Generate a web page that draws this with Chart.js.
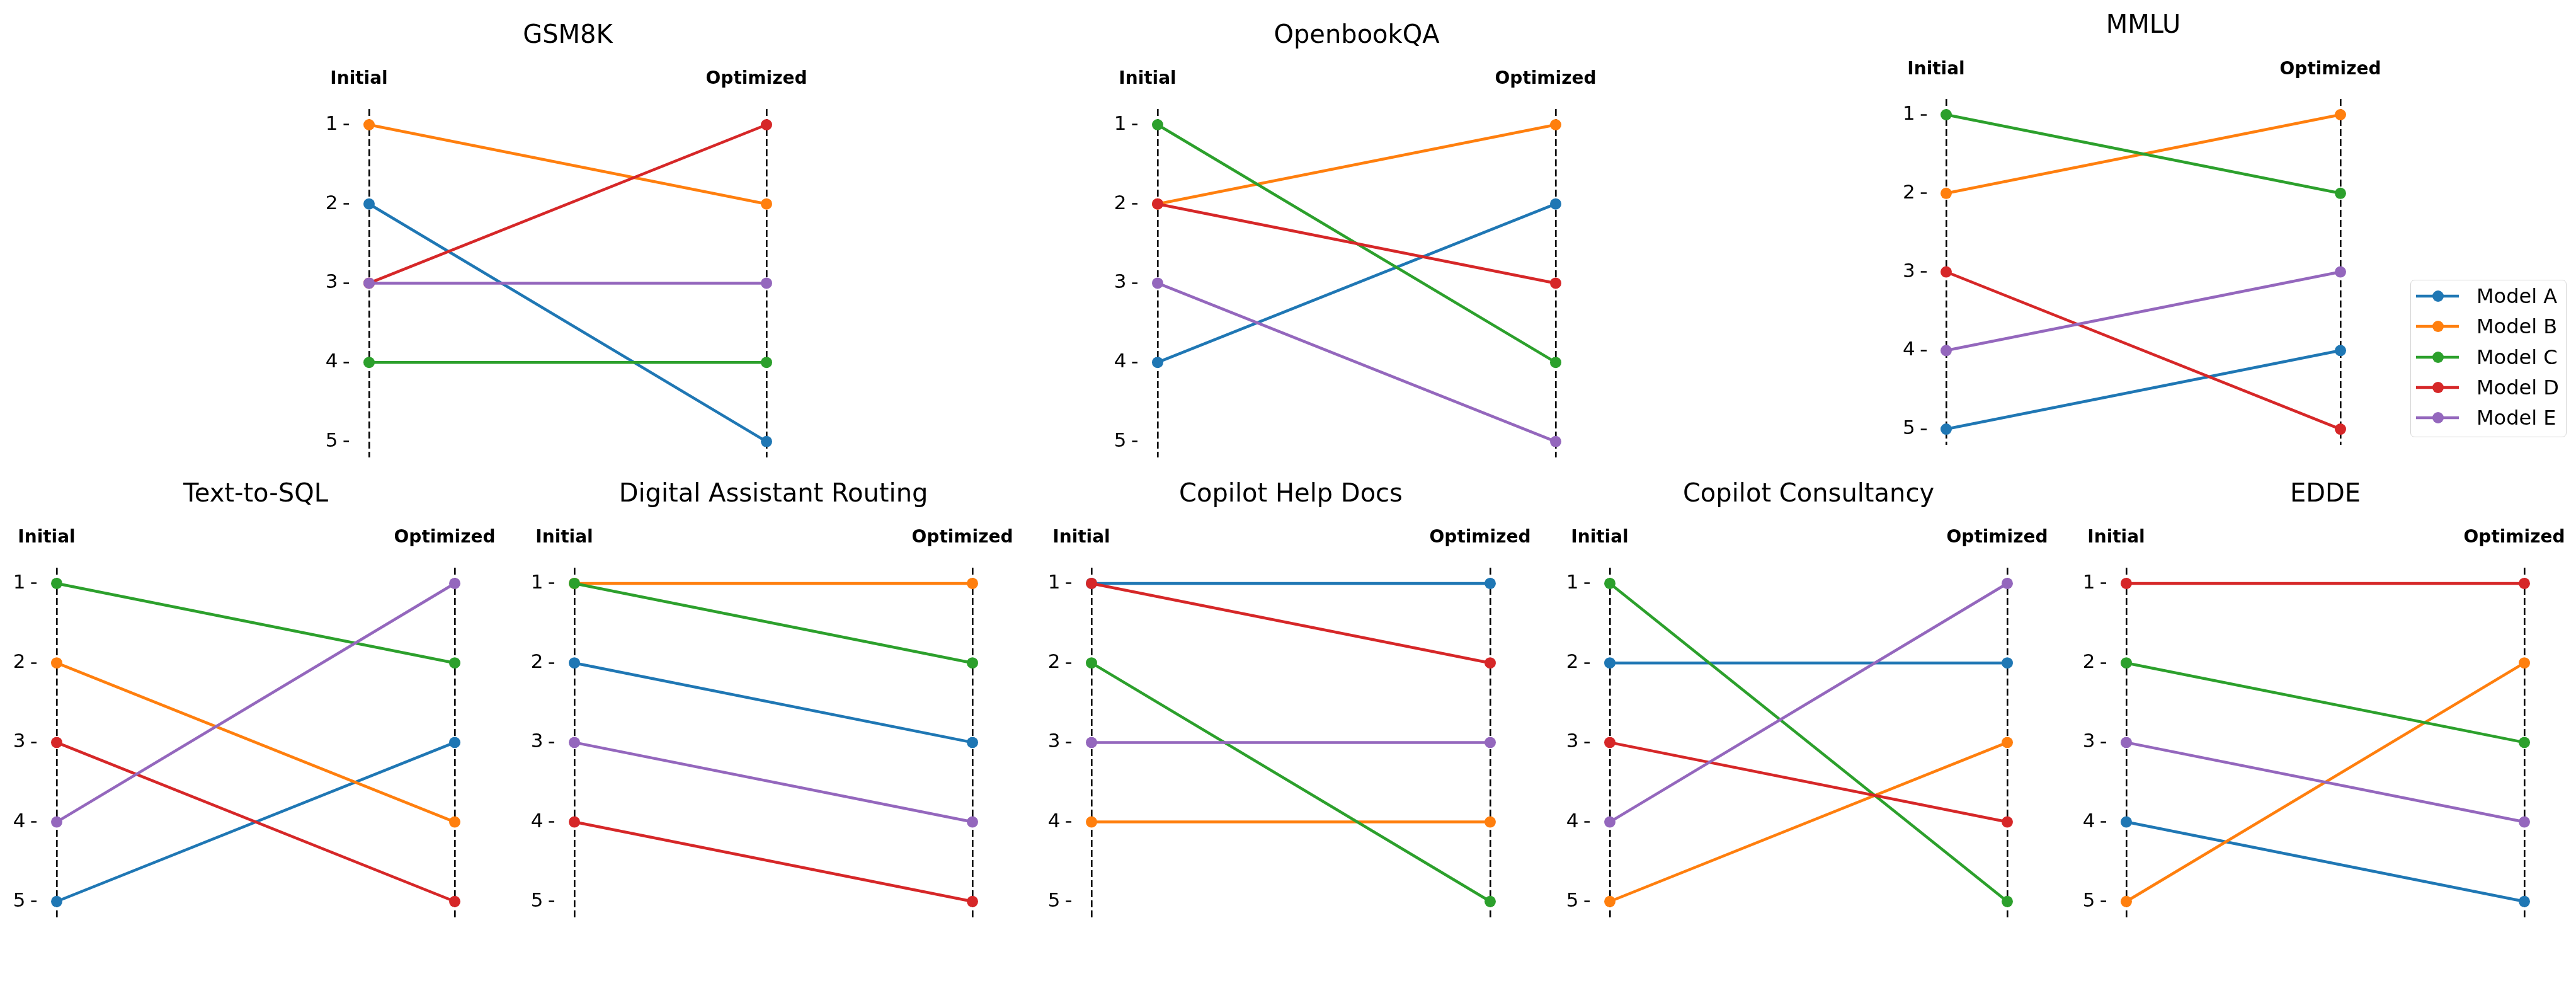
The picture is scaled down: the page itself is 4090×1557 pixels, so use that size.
<!DOCTYPE html>
<html>
<head>
<meta charset="utf-8">
<script src="https://cdn.jsdelivr.net/npm/chart.js@4.4.1/dist/chart.umd.min.js"></script>
<style>
  html, body { margin: 0; padding: 0; background: #fff; }
  body { position: relative; width: 4090px; height: 1557px; overflow: hidden; font-family: 'DejaVu Sans', sans-serif; }
  canvas { position: absolute; }
  #legend { position: absolute; left: 3827px; top: 444px; width: 248px; height: 250px; box-sizing: border-box;
            border: 1.5px solid #d4d4d4; border-radius: 7px; background: rgba(255,255,255,0.85); }
  #legend .row { position: absolute; left: 0; width: 100%; height: 48px; }
  #legend svg { position: absolute; left: 8px; top: 12px; }
  #legend span { position: absolute; left: 104px; top: 0; line-height: 48px; font-size: 32px; color: #000; white-space: nowrap; }
</style>
</head>
<body>
<div id="legend"></div>
<script>
// models, stages and rank ticks
const models = ['Model A', 'Model B', 'Model C', 'Model D', 'Model E'];
const stages = ['Initial', 'Optimized'];
const rankTicks = [1, 2, 3, 4, 5];
const taskNames = ['GSM8K', 'OpenbookQA', 'MMLU', 'Text-to-SQL', 'Digital Assistant Routing',
                   'Copilot Help Docs', 'Copilot Consultancy', 'EDDE'];

// rank of Model A..E per task
const gsm8kInitial = [2, 1, 4, 3, 3];
const gsm8kOptimized = [5, 2, 4, 1, 3];
const openbookInitial = [4, 2, 1, 2, 3];
const openbookOptimized = [2, 1, 4, 3, 5];
const mmluInitial = [5, 2, 1, 3, 4];
const mmluOptimized = [4, 1, 2, 5, 3];
const sqlInitial = [5, 2, 1, 3, 4];
const sqlOptimized = [3, 4, 2, 5, 1];
const routingInitial = [2, 1, 1, 4, 3];
const routingOptimized = [3, 1, 2, 5, 4];
const helpDocsInitial = [1, 4, 2, 1, 3];
const helpDocsOptimized = [1, 4, 5, 2, 3];
const consultancyInitial = [2, 5, 1, 3, 4];
const consultancyOptimized = [2, 3, 5, 4, 1];
const eddeInitial = [4, 5, 2, 1, 3];
const eddeOptimized = [5, 2, 3, 1, 4];

const initialRanks = [gsm8kInitial, openbookInitial, mmluInitial, sqlInitial,
                      routingInitial, helpDocsInitial, consultancyInitial, eddeInitial];
const optimizedRanks = [gsm8kOptimized, openbookOptimized, mmluOptimized, sqlOptimized,
                        routingOptimized, helpDocsOptimized, consultancyOptimized, eddeOptimized];

const colors = ['#1f77b4', '#ff7f0e', '#2ca02c', '#d62728', '#9467bd'];

// panel placement: x of "Initial" axis, width Initial->Optimized, y of rank 1, px per rank
const boxes = [
  [586, 631, 198, 125.75], [1838, 632, 198, 125.75], [3090, 626, 182, 124.75],
  [90, 632, 926, 126.25], [912, 632, 926, 126.25], [1733, 633, 926, 126.25],
  [2556, 631, 926, 126.25], [3376, 632, 926, 126.25]
];

Chart.defaults.font.family = "'DejaVu Sans', sans-serif";
Chart.defaults.color = '#000';

const SIDE = 110, TOPM = 141, BOTM = 40, YW = 50;
const TITLE_SIZE = 40, TITLE_PAD = 2, TITLE_H = TITLE_SIZE * 1.2 + TITLE_PAD;

function makePanel(i) {
  const [x0, unit, y1, step] = boxes[i];
  const areaL = x0 - 0.05 * unit, areaW = 1.1 * unit;
  const areaT = y1 - 0.2 * step, areaH = 4.4 * step;
  const left = Math.round(areaL - SIDE), top = Math.round(areaT - TOPM);
  const side = areaL - left, topM = areaT - top;
  const w = Math.round(areaW + 2 * side), h = Math.round(areaH + topM + BOTM);

  const c = document.createElement('canvas');
  c.width = w; c.height = h;
  c.style.left = left + 'px'; c.style.top = top + 'px';
  c.style.width = w + 'px'; c.style.height = h + 'px';
  document.body.insertBefore(c, document.getElementById('legend'));

  const datasets = models.map((m, k) => ({
    label: m,
    data: [{ x: 0, y: initialRanks[i][k] }, { x: 1, y: optimizedRanks[i][k] }],
    borderColor: colors[k],
    backgroundColor: colors[k],
    pointBackgroundColor: colors[k],
    borderWidth: 4.5,
    pointRadius: 9,
    pointBorderWidth: 0,
    tension: 0,
    clip: false,
    order: models.length - 1 - k
  }));

  new Chart(c, {
    type: 'line',
    data: { datasets },
    options: {
      responsive: false,
      animation: false,
      devicePixelRatio: 1,
      events: [],
      layout: { padding: { left: side - YW, right: side - YW, top: 0, bottom: BOTM } },
      plugins: {
        legend: { display: false },
        tooltip: { enabled: false },
        title: {
          display: true, text: taskNames[i], color: '#000',
          font: { size: TITLE_SIZE, weight: 'normal', lineHeight: 1.2 },
          padding: { top: TITLE_PAD, bottom: 0 }
        }
      },
      scales: {
        x: {
          type: 'linear', position: 'top', min: -0.05, max: 1.05,
          afterBuildTicks: s => { s.ticks = stages.map((_, k) => ({ value: k })); },
          afterFit: s => { s.height = topM - TITLE_H; },
          ticks: {
            callback: v => stages[v],
            font: { size: 28, weight: 'bold' }, color: '#000',
            padding: 30, labelOffset: -16, maxRotation: 0, autoSkip: false
          },
          grid: { display: true, drawOnChartArea: true, drawTicks: false, color: '#000', lineWidth: 2.6 },
          border: { display: false, dash: [11, 5] }
        },
        y: {
          type: 'linear', reverse: true, min: 0.8, max: 5.2,
          afterBuildTicks: s => { s.ticks = rankTicks.map(v => ({ value: v })); },
          afterFit: s => { s.width = YW; },
          ticks: { font: { size: 31 }, color: '#000', padding: 9, callback: v => v },
          grid: { display: true, drawOnChartArea: false, drawTicks: true, tickLength: 9,
                  tickWidth: 2.4, tickColor: '#000' },
          border: { display: false }
        },
        // empty right-hand box so the title centres over the plot area
        yr: {
          type: 'linear', position: 'right', min: 0.8, max: 5.2,
          afterFit: s => { s.width = YW; },
          ticks: { display: false },
          grid: { display: false },
          border: { display: false }
        }
      }
    }
  });
}

taskNames.forEach((_, i) => makePanel(i));

// legend
const legend = document.getElementById('legend');
models.forEach((m, k) => {
  const row = document.createElement('div');
  row.className = 'row';
  row.style.top = (1 + k * 48.3) + 'px';
  row.innerHTML =
    '<svg width="70" height="24"><line x1="0" y1="12" x2="68" y2="12" stroke="' + colors[k] +
    '" stroke-width="4.5"/><circle cx="35" cy="12" r="9" fill="' + colors[k] + '"/></svg>' +
    '<span>' + m + '</span>';
  legend.appendChild(row);
});
</script>
</body>
</html>
